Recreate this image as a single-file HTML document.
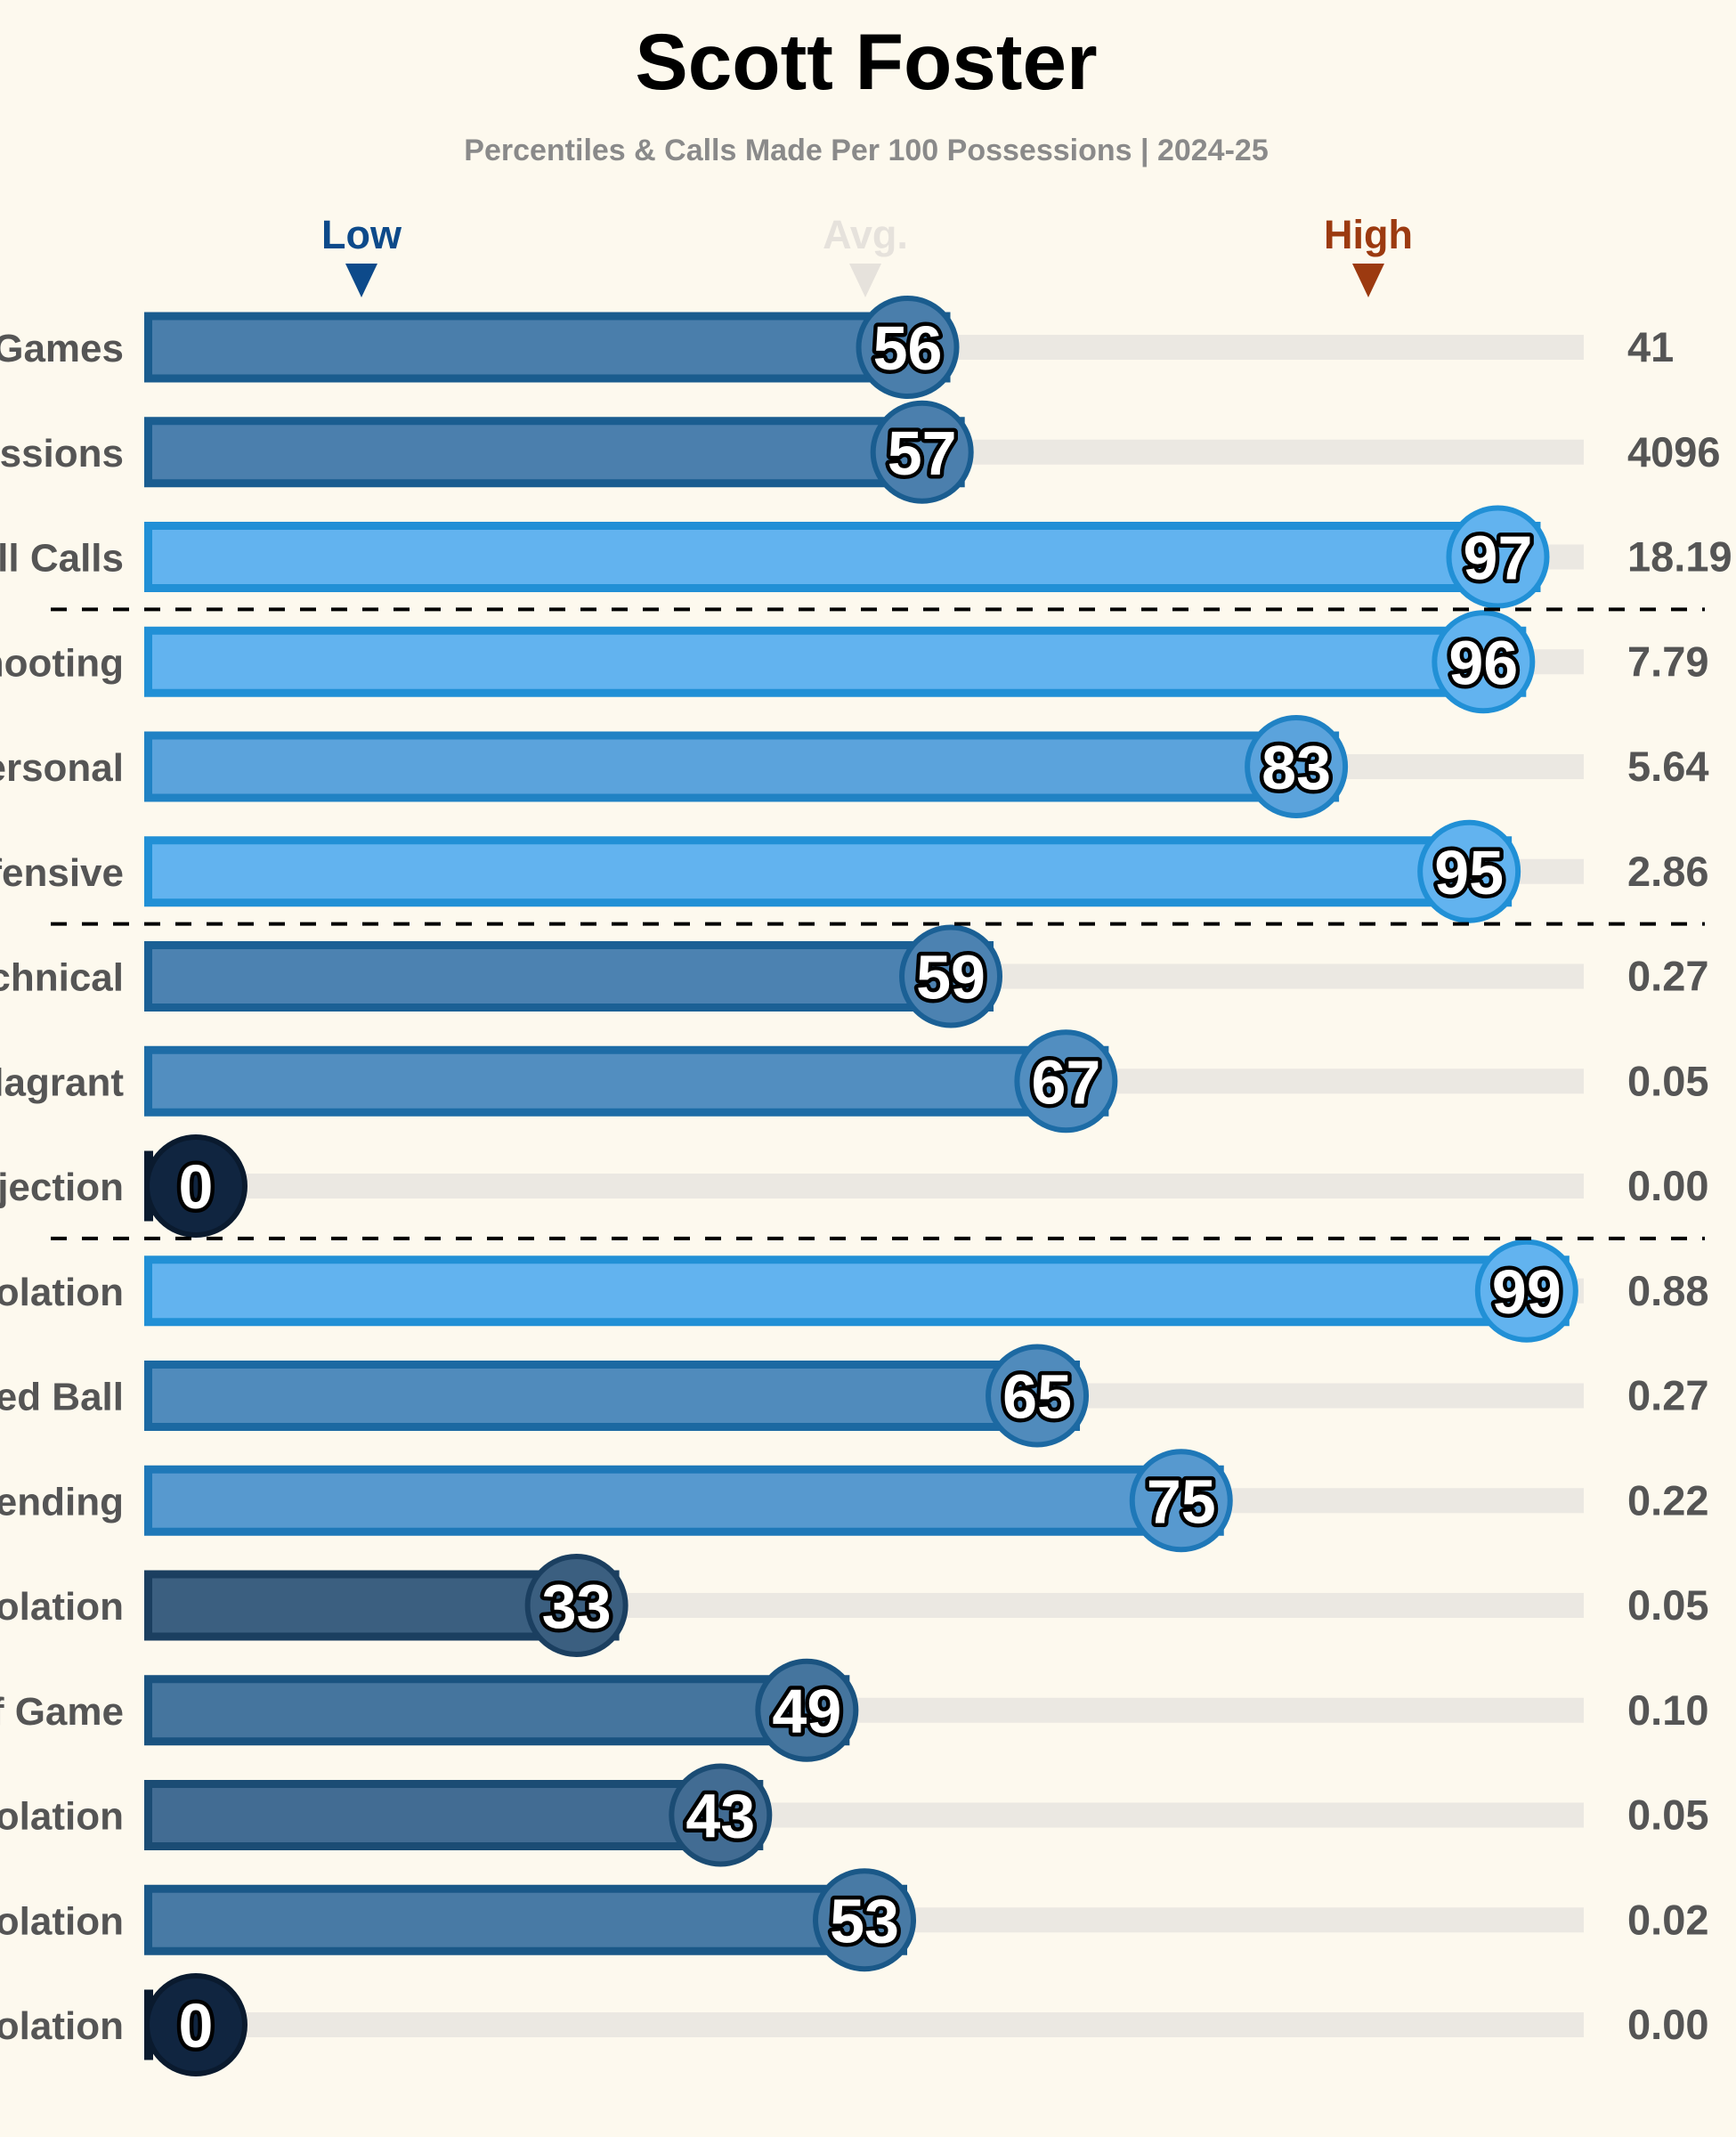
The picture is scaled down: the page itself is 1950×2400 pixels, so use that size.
<!DOCTYPE html>
<html><head><meta charset="utf-8"><style>
html,body{margin:0;padding:0;background:#fdf9ee;}
svg{display:block;font-family:"Liberation Sans",sans-serif;}
</style></head><body>
<svg id="chart" width="1950" height="2400" viewBox="0 0 1950 2400" xmlns="http://www.w3.org/2000/svg">
<rect width="1950" height="2400" fill="#fdf9ee"/>
<text x="973" y="100" text-anchor="middle" font-size="89" font-weight="bold" fill="#000">Scott Foster</text>
<text x="973" y="180" text-anchor="middle" font-size="34" font-weight="bold" fill="#8a8a8a">Percentiles &amp; Calls Made Per 100 Possessions | 2024-25</text>
<g><text x="406" y="279" text-anchor="middle" font-size="45" font-weight="bold" fill="#0d4a8a">Low</text><polygon points="388,296 424,296 406,334" fill="#0d4a8a"/></g>
<g><text x="972" y="279" text-anchor="middle" font-size="45" font-weight="bold" fill="#e6e2dc">Avg.</text><polygon points="954,296 990,296 972,334" fill="#e6e2dc"/></g>
<g><text x="1537" y="279" text-anchor="middle" font-size="45" font-weight="bold" fill="#9c3a10">High</text><polygon points="1519,296 1555,296 1537,334" fill="#9c3a10"/></g>
<g id="rows"></g>
</svg>
<script>
const categories = ["Games","Possessions","All Calls","Shooting","Personal","Offensive","Technical","Flagrant","Ejection","3 Sec. Violation","Kicked Ball","Goaltending","Lane Violation","Delay of Game","Backcourt Violation","8 Sec. Violation","5 Sec. Violation"];
const percentiles = [56,57,97,96,83,95,59,67,0,99,65,75,33,49,43,53,0];
const valueLabels = ["41","4096","18.19","7.79","5.64","2.86","0.27","0.05","0.00","0.88","0.27","0.22","0.05","0.10","0.05","0.02","0.00"];
const separatorsAfter = [2,5,8];

const NS="http://www.w3.org/2000/svg";
const x0=162, trackW=1617, y0=390, rowH=117.75;
const xScale=p=>x0+p/100*trackW;
const yScale=i=>y0+i*rowH;
const fillStops=[[0,[16,37,64]],[33,[59,95,128]],[56,[74,126,171]],[75,[87,153,207]],[95,[98,179,239]],[100,[98,179,239]]];
const edgeStops=[[0,[10,26,46]],[33,[27,63,96]],[56,[26,92,142]],[75,[31,120,184]],[95,[33,144,214]],[100,[33,144,214]]];
function interp(st,p){for(let k=0;k<st.length-1;k++){const a=st[k],b=st[k+1];if(p<=b[0]){const t=(p-a[0])/(b[0]-a[0]);return 'rgb('+a[1].map((v,j)=>Math.round(v+(b[1][j]-v)*t)).join(',')+')';}}return 'rgb('+st[st.length-1][1].join(',')+')';}
function mk(tag,attrs,parent){const e=document.createElementNS(NS,tag);for(const k in attrs)e.setAttribute(k,attrs[k]);parent.appendChild(e);return e;}
const g=document.getElementById('rows');
categories.forEach((c,i)=>{
  const p=percentiles[i], cy=yScale(i), fill=interp(fillStops,p), edge=interp(edgeStops,p);
  const row=mk('g',{},g);
  
  
  const lab=mk('text',{x:139,y:cy+16,'text-anchor':'end','font-size':44,'font-weight':'bold',fill:'#555'},row);
  lab.textContent=c;
  
  
  const tr=mk('rect',{x:x0,y:cy-14,width:trackW,height:28,fill:'#ebe8e2'},row);
  
  
  const w=Math.max(xScale(p)-x0,8);
  const bar=mk('rect',{x:x0+4.5,y:cy-35,width:Math.max(w-9,1),height:70,fill:fill,stroke:edge,'stroke-width':9},row);
  
  
  const cx=Math.max(xScale(p)-48,x0+58);
  const circ=mk('circle',{cx:cx,cy:cy,r:55,fill:fill,stroke:edge,'stroke-width':6},row);
  
  
  const t=mk('text',{x:cx,y:cy+25,'text-anchor':'middle','font-size':70,'font-weight':'bold',fill:'#fff',stroke:'#000','stroke-width':9,'paint-order':'stroke','stroke-linejoin':'round'},row);
  t.textContent=p;
  
  
  const v=mk('text',{x:1828,y:cy+16,'font-size':47,'font-weight':'bold',fill:'#555'},row);
  v.textContent=valueLabels[i];
  
  
});
separatorsAfter.forEach(i=>{
  const y=(yScale(i)+yScale(i+1))/2;
  const l=mk('line',{x1:57,x2:1915,y1:y,y2:y,stroke:'#000','stroke-width':4,'stroke-dasharray':'18 17'},g);
  
  
});
</script>
</body></html>
